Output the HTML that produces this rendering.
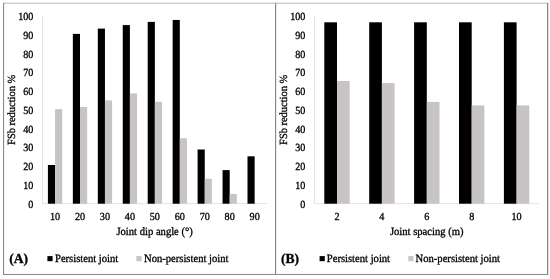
<!DOCTYPE html>
<html><head><meta charset="utf-8"><title>FSb reduction charts</title>
<style>
html,body{margin:0;padding:0;background:#fff;}
body{width:550px;height:279px;overflow:hidden;}
svg{display:block;font-family:"Liberation Serif",serif;}
text{fill:#000;stroke:#000;stroke-width:0.3px;text-rendering:geometricPrecision;}
</style></head><body>
<svg width="550" height="279" viewBox="0 0 550 279">
<rect x="0" y="0" width="550" height="279" fill="#fff"/>

<rect x="3" y="2.6" width="544.9" height="1.2" fill="#c4c4c4"/>
<rect x="3" y="3" width="1.1" height="272" fill="#8a8a8a"/>
<rect x="275.1" y="3" width="1.05" height="272" fill="#7c7c7c"/>
<rect x="547" y="3" width="1.2" height="272" fill="#808080"/>
<rect x="3" y="273.95" width="545" height="1.05" fill="#8a8a8a"/>
<rect x="42.18" y="16.50" width="0.8" height="187.20" fill="#dcdcdc"/>
<rect x="42.18" y="203.30" width="224.95" height="0.8" fill="#dcdcdc"/>
<rect x="47.91" y="165.00" width="7.15" height="38.70" fill="#000"/>
<rect x="55.05" y="109.10" width="7.15" height="94.60" fill="#c7c4c3"/>
<text transform="translate(55.05,220.4) scale(1,1.06)" font-size="10.2" text-anchor="middle">10</text>
<rect x="72.85" y="33.90" width="7.15" height="169.80" fill="#000"/>
<rect x="80.00" y="107.05" width="7.15" height="96.65" fill="#c7c4c3"/>
<text transform="translate(80.00,220.4) scale(1,1.06)" font-size="10.2" text-anchor="middle">20</text>
<rect x="97.80" y="28.60" width="7.15" height="175.10" fill="#000"/>
<rect x="104.95" y="100.40" width="7.15" height="103.30" fill="#c7c4c3"/>
<text transform="translate(104.95,220.4) scale(1,1.06)" font-size="10.2" text-anchor="middle">30</text>
<rect x="122.75" y="25.10" width="7.15" height="178.60" fill="#000"/>
<rect x="129.91" y="93.40" width="7.15" height="110.30" fill="#c7c4c3"/>
<text transform="translate(129.91,220.4) scale(1,1.06)" font-size="10.2" text-anchor="middle">40</text>
<rect x="147.70" y="21.90" width="7.15" height="181.80" fill="#000"/>
<rect x="154.85" y="101.80" width="7.15" height="101.90" fill="#c7c4c3"/>
<text transform="translate(154.85,220.4) scale(1,1.06)" font-size="10.2" text-anchor="middle">50</text>
<rect x="172.66" y="19.95" width="7.15" height="183.75" fill="#000"/>
<rect x="179.81" y="138.20" width="7.15" height="65.50" fill="#c7c4c3"/>
<text transform="translate(179.81,220.4) scale(1,1.06)" font-size="10.2" text-anchor="middle">60</text>
<rect x="197.60" y="149.50" width="7.15" height="54.20" fill="#000"/>
<rect x="204.75" y="178.80" width="7.15" height="24.90" fill="#c7c4c3"/>
<text transform="translate(204.75,220.4) scale(1,1.06)" font-size="10.2" text-anchor="middle">70</text>
<rect x="222.55" y="170.10" width="7.15" height="33.60" fill="#000"/>
<rect x="229.70" y="193.90" width="7.15" height="9.80" fill="#c7c4c3"/>
<text transform="translate(229.70,220.4) scale(1,1.06)" font-size="10.2" text-anchor="middle">80</text>
<rect x="247.50" y="156.30" width="7.15" height="47.40" fill="#000"/>
<text transform="translate(254.65,220.4) scale(1,1.06)" font-size="10.2" text-anchor="middle">90</text>
<text transform="translate(33.35,207.50) scale(1,1.08)" font-size="10.1" text-anchor="end">0</text>
<text transform="translate(33.35,188.78) scale(1,1.08)" font-size="10.1" text-anchor="end">10</text>
<text transform="translate(33.35,170.06) scale(1,1.08)" font-size="10.1" text-anchor="end">20</text>
<text transform="translate(33.35,151.34) scale(1,1.08)" font-size="10.1" text-anchor="end">30</text>
<text transform="translate(33.35,132.62) scale(1,1.08)" font-size="10.1" text-anchor="end">40</text>
<text transform="translate(33.35,113.90) scale(1,1.08)" font-size="10.1" text-anchor="end">50</text>
<text transform="translate(33.35,95.18) scale(1,1.08)" font-size="10.1" text-anchor="end">60</text>
<text transform="translate(33.35,76.46) scale(1,1.08)" font-size="10.1" text-anchor="end">70</text>
<text transform="translate(33.35,57.74) scale(1,1.08)" font-size="10.1" text-anchor="end">80</text>
<text transform="translate(33.35,39.02) scale(1,1.08)" font-size="10.1" text-anchor="end">90</text>
<text transform="translate(33.35,20.30) scale(1,1.08)" font-size="10.1" text-anchor="end">100</text>
<text transform="translate(154.60,234.6) scale(1,1.05)" font-size="10.6" text-anchor="middle">Joint dip angle (°)</text>
<text transform="translate(14.55,109.85) rotate(-90) scale(1,1.05)" font-size="10.45" text-anchor="middle">FSb reduction %</text>
<text transform="translate(9.25,263.4) scale(1,1.01)" font-size="13.6" font-weight="bold">(A)</text>
<rect x="47.40" y="256.1" width="5.2" height="5.1" fill="#000"/>
<text transform="translate(55.00,262) scale(1,1.05)" font-size="10.6">Persistent joint</text>
<rect x="136.40" y="256.1" width="5.2" height="5.1" fill="#c7c4c3"/>
<text transform="translate(144.00,262) scale(1,1.05)" font-size="10.6">Non-persistent joint</text>
<rect x="314.15" y="16.50" width="0.8" height="187.20" fill="#dcdcdc"/>
<rect x="314.15" y="203.30" width="224.90" height="0.8" fill="#dcdcdc"/>
<rect x="324.30" y="22.30" width="12.70" height="181.40" fill="#000"/>
<rect x="337.00" y="81.00" width="12.70" height="122.70" fill="#c7c4c3"/>
<text transform="translate(337.00,220.4) scale(1,1.06)" font-size="10.2" text-anchor="middle">2</text>
<rect x="369.20" y="22.30" width="12.70" height="181.40" fill="#000"/>
<rect x="381.90" y="83.10" width="12.70" height="120.60" fill="#c7c4c3"/>
<text transform="translate(381.90,220.4) scale(1,1.06)" font-size="10.2" text-anchor="middle">4</text>
<rect x="414.10" y="22.30" width="12.70" height="181.40" fill="#000"/>
<rect x="426.80" y="101.90" width="12.70" height="101.80" fill="#c7c4c3"/>
<text transform="translate(426.80,220.4) scale(1,1.06)" font-size="10.2" text-anchor="middle">6</text>
<rect x="459.00" y="22.30" width="12.70" height="181.40" fill="#000"/>
<rect x="471.70" y="105.40" width="12.70" height="98.30" fill="#c7c4c3"/>
<text transform="translate(471.70,220.4) scale(1,1.06)" font-size="10.2" text-anchor="middle">8</text>
<rect x="503.90" y="22.30" width="12.70" height="181.40" fill="#000"/>
<rect x="516.60" y="105.40" width="12.70" height="98.30" fill="#c7c4c3"/>
<text transform="translate(516.60,220.4) scale(1,1.06)" font-size="10.2" text-anchor="middle">10</text>
<text transform="translate(305.30,207.50) scale(1,1.08)" font-size="10.1" text-anchor="end">0</text>
<text transform="translate(305.30,188.78) scale(1,1.08)" font-size="10.1" text-anchor="end">10</text>
<text transform="translate(305.30,170.06) scale(1,1.08)" font-size="10.1" text-anchor="end">20</text>
<text transform="translate(305.30,151.34) scale(1,1.08)" font-size="10.1" text-anchor="end">30</text>
<text transform="translate(305.30,132.62) scale(1,1.08)" font-size="10.1" text-anchor="end">40</text>
<text transform="translate(305.30,113.90) scale(1,1.08)" font-size="10.1" text-anchor="end">50</text>
<text transform="translate(305.30,95.18) scale(1,1.08)" font-size="10.1" text-anchor="end">60</text>
<text transform="translate(305.30,76.46) scale(1,1.08)" font-size="10.1" text-anchor="end">70</text>
<text transform="translate(305.30,57.74) scale(1,1.08)" font-size="10.1" text-anchor="end">80</text>
<text transform="translate(305.30,39.02) scale(1,1.08)" font-size="10.1" text-anchor="end">90</text>
<text transform="translate(305.30,20.30) scale(1,1.08)" font-size="10.1" text-anchor="end">100</text>
<text transform="translate(426.70,234.6) scale(1,1.05)" font-size="10.6" text-anchor="middle">Joint spacing (m)</text>
<text transform="translate(286.55,109.85) rotate(-90) scale(1,1.05)" font-size="10.45" text-anchor="middle">FSb reduction %</text>
<text transform="translate(281.00,263.4) scale(1,1.01)" font-size="13.6" font-weight="bold">(B)</text>
<rect x="319.60" y="256.1" width="5.2" height="5.1" fill="#000"/>
<text transform="translate(326.80,262) scale(1,1.05)" font-size="10.6">Persistent joint</text>
<rect x="408.30" y="256.1" width="5.2" height="5.1" fill="#c7c4c3"/>
<text transform="translate(415.60,262) scale(1,1.05)" font-size="10.6">Non-persistent joint</text>
</svg></body></html>
